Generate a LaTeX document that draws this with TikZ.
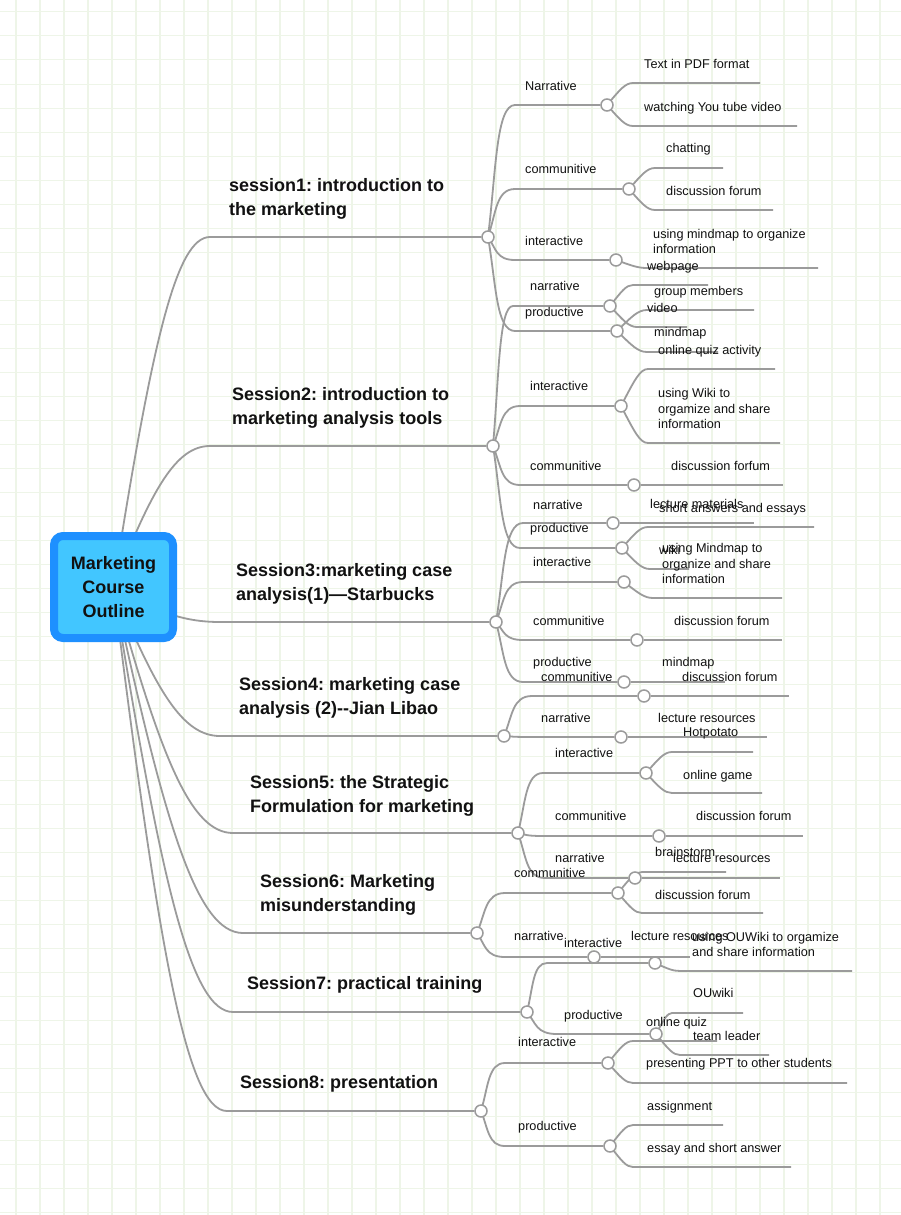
\documentclass[tikz,border=0pt]{standalone}
\usepackage{fontspec}
\setmainfont{Liberation Sans}
\usetikzlibrary{calc}
\definecolor{gridc}{RGB}{238,245,232}
\definecolor{linec}{RGB}{155,155,155}
\definecolor{blueB}{RGB}{30,144,255}
\definecolor{blueL}{RGB}{66,198,255}
\definecolor{txt}{RGB}{17,17,17}
\pgfdeclarelayer{gridlayer}
\pgfdeclarelayer{edges}
\pgfsetlayers{gridlayer,edges,main}
\tikzset{
  conn/.style={draw=linec, line width=1.8pt},
  hub/.style={circle, draw=linec, fill=white, line width=1.5pt, minimum size=12pt, inner sep=0pt},
  lab/.style={anchor=west, inner sep=0pt, text=txt, font=\fontsize{12.7}{15.5}\selectfont, text height=9.2pt, text depth=2.7pt},
  labm/.style={anchor=west, inner sep=0pt, text=txt, font=\fontsize{12.7}{15.5}\selectfont, align=left},
  sess/.style={anchor=west, inner sep=0pt, text=txt, font=\bfseries\fontsize{18}{24}\selectfont, align=left},
  gridv/.style={draw=gridc, line width=1.4pt},
  gridh/.style={draw=gridc, line width=1pt},
}
% main curve (root to session line)
\newcommand\lnk[3]{\draw[conn] let \p1=(#1), \p2=(#2) in (\p1) .. controls ({\x1+0.4*(\x2-\x1)},{\y1+0.7*(\y2-\y1)}) and ({\x2-0.35*(\x2-\x1)},\y2) .. (\p2) -- (#3);}
% hub to sub-hub curve
\newcommand\hlnk[3]{\draw[conn] let \p1=(#1), \p2=(#2) in (\p1) .. controls ({\x1+0.3*(\x2-\x1)},{\y1+0.5*(\y2-\y1)}) and ({\x1+0.3*(\x2-\x1)},\y2) .. (\p2) -- (#3);}
% sub-hub to leaf curve
\newcommand\llnk[3]{\draw[conn] let \p1=(#1), \p2=(#2) in (\p1) .. controls ({\x1+0.5*(\x2-\x1)},{\y1+0.7*(\y2-\y1)}) and ({\x2-0.3*(\x2-\x1)},\y2) .. (\p2) -- (#3);}
\newcommand\br[4]{\coordinate (#4b) at (#2); \coordinate (#4) at (#3); \llnk{#1}{#4b}{#4}}
\frenchspacing
\begin{document}
\begin{tikzpicture}[x=1pt,y=-1pt]
\useasboundingbox (0,0) rectangle (901,1215);
\begin{pgfonlayer}{gridlayer}
\fill[white] (0,0) rectangle (901,1215);
\foreach \x in {16,40,...,904} \draw[gridv] (\x,0) -- (\x,1215);
\foreach \y in {12,36,...,1212} \draw[gridh] (0,\y) -- (901,\y);
\end{pgfonlayer}

% root
\node[draw=blueB, line width=8pt, fill=blueL, rounded corners=9pt, minimum width=119pt, minimum height=102pt, inner sep=0pt, text=txt, font=\bfseries\fontsize{18}{24}\selectfont, align=center] (root) at (113.5,587) {Marketing\\Course\\Outline};

% session hubs
\node[hub] (H1) at (488,237) {};
\node[hub] (H2) at (493,446) {};
\node[hub] (H3) at (496,622) {};
\node[hub] (H4) at (504,736) {};
\node[hub] (H5) at (518,833) {};
\node[hub] (H6) at (477,933) {};
\node[hub] (H7) at (527,1012) {};
\node[hub] (H8) at (481,1111) {};

% sub hubs
\node[hub] (n1) at (607,105) {};
\node[hub] (c1) at (629,189) {};
\node[hub] (i1) at (616,260) {};
\node[hub] (p1) at (617,331) {};
\node[hub] (n2) at (610,306) {};
\node[hub] (i2) at (621,406) {};
\node[hub] (c2) at (634,485) {};
\node[hub] (p2) at (622,548) {};
\node[hub] (n3) at (613,523) {};
\node[hub] (i3) at (624,582) {};
\node[hub] (c3) at (637,640) {};
\node[hub] (p3) at (624,682) {};
\node[hub] (c4) at (644,696) {};
\node[hub] (n4) at (621,737) {};
\node[hub] (i5) at (646,773) {};
\node[hub] (c5) at (659,836) {};
\node[hub] (n5) at (635,878) {};
\node[hub] (c6) at (618,893) {};
\node[hub] (n6) at (594,957) {};
\node[hub] (i7) at (655,963) {};
\node[hub] (p7) at (656,1034) {};
\node[hub] (i8) at (608,1063) {};
\node[hub] (p8) at (610,1146) {};

\begin{pgfonlayer}{edges}
% root to sessions
\coordinate (s1) at (210,237); \lnk{root}{s1}{H1}
\coordinate (s2) at (210,446); \lnk{root}{s2}{H2}
\coordinate (s3) at (220,622); \lnk{root}{s3}{H3}
\coordinate (s4) at (220,736); \lnk{root}{s4}{H4}
\coordinate (s5) at (233,833); \lnk{root}{s5}{H5}
\coordinate (s6) at (243,933); \lnk{root}{s6}{H6}
\coordinate (s7) at (233,1012); \lnk{root}{s7}{H7}
\coordinate (s8) at (227,1111); \lnk{root}{s8}{H8}
% session 1
\coordinate (n1b) at (515,105); \hlnk{H1}{n1b}{n1}
\br{n1}{633,83}{760,83}{e1}
\br{n1}{633,126}{797,126}{e2}
\coordinate (c1b) at (515,189); \hlnk{H1}{c1b}{c1}
\br{c1}{655,168}{723,168}{e3}
\br{c1}{655,210}{773,210}{e4}
\coordinate (i1b) at (515,260); \hlnk{H1}{i1b}{i1}
\br{i1}{647,268}{818,268}{e5}
\coordinate (p1b) at (515,331); \hlnk{H1}{p1b}{p1}
\br{p1}{647,310}{754,310}{e6}
\br{p1}{647,352}{718,352}{e7}
% session 2
\coordinate (n2b) at (513,306); \hlnk{H2}{n2b}{n2}
\br{n2}{633,285}{708,285}{e8}
\br{n2}{637,327}{687,327}{e9}
\coordinate (i2b) at (520,406); \hlnk{H2}{i2b}{i2}
\br{i2}{648,369}{775,369}{e10}
\br{i2}{648,443}{780,443}{e11}
\coordinate (c2b) at (520,485); \hlnk{H2}{c2b}{c2}
\coordinate (e12) at (783,485); \draw[conn] (c2) -- (e12);
\coordinate (p2b) at (520,548); \hlnk{H2}{p2b}{p2}
\br{p2}{648,527}{814,527}{e13}
\br{p2}{650,569}{689,569}{e14}
% session 3
\coordinate (n3b) at (523,523); \hlnk{H3}{n3b}{n3}
\coordinate (e15) at (754,523); \draw[conn] (n3) -- (e15);
\coordinate (i3b) at (523,582); \hlnk{H3}{i3b}{i3}
\br{i3}{653,598}{782,598}{e16}
\coordinate (c3b) at (523,640); \hlnk{H3}{c3b}{c3}
\coordinate (e17) at (782,640); \draw[conn] (c3) -- (e17);
\coordinate (p3b) at (523,682); \hlnk{H3}{p3b}{p3}
\coordinate (e18) at (725,682); \draw[conn] (p3) -- (e18);
% session 4
\coordinate (c4b) at (532,696); \hlnk{H4}{c4b}{c4}
\coordinate (e19) at (789,696); \draw[conn] (c4) -- (e19);
\coordinate (n4b) at (532,737); \hlnk{H4}{n4b}{n4}
\coordinate (e20) at (767,737); \draw[conn] (n4) -- (e20);
% session 5
\coordinate (i5b) at (543,773); \hlnk{H5}{i5b}{i5}
\br{i5}{672,752}{753,752}{e21}
\br{i5}{672,793}{762,793}{e22}
\coordinate (c5b) at (543,836); \hlnk{H5}{c5b}{c5}
\coordinate (e23) at (803,836); \draw[conn] (c5) -- (e23);
\coordinate (n5b) at (545,878); \hlnk{H5}{n5b}{n5}
\coordinate (e24) at (780,878); \draw[conn] (n5) -- (e24);
% session 6
\coordinate (c6b) at (505,893); \hlnk{H6}{c6b}{c6}
\br{c6}{642,872}{726,872}{e25}
\br{c6}{642,913}{763,913}{e26}
\coordinate (n6b) at (505,957); \hlnk{H6}{n6b}{n6}
\coordinate (e27) at (690,957); \draw[conn] (n6) -- (e27);
% session 7
\coordinate (i7b) at (547,963); \hlnk{H7}{i7b}{i7}
\br{i7}{680,971}{852,971}{e28}
\coordinate (p7b) at (557,1034); \hlnk{H7}{p7b}{p7}
\br{p7}{672,1013}{743,1013}{e29}
\br{p7}{680,1055}{769,1055}{e30}
% session 8
\coordinate (i8b) at (505,1063); \hlnk{H8}{i8b}{i8}
\br{i8}{633,1041}{717,1041}{e31}
\br{i8}{633,1083}{847,1083}{e32}
\coordinate (p8b) at (505,1146); \hlnk{H8}{p8b}{p8}
\br{p8}{633,1125}{723,1125}{e33}
\br{p8}{633,1167}{791,1167}{e34}
\end{pgfonlayer}

% session labels
\node[sess] (t1) at (229,199) {session1: introduction to\\the marketing};
\node[sess] (t2) at (232,408) {Session2: introduction to\\marketing analysis tools};
\node[sess] (t3) at (236,584) {Session3:marketing case\\analysis(1)—Starbucks};
\node[sess] (t4) at (239,698) {Session4: marketing case\\analysis (2)-\kern0pt-Jian Libao};
\node[sess] (t5) at (250,796) {Session5: the Strategic\\Formulation for marketing};
\node[sess] (t6) at (260,895) {Session6: Marketing\\misunderstanding};
\node[sess] (t7) at (247,985) {Session7: practical training};
\node[sess] (t8) at (240,1084) {Session8: presentation};

% small labels
\node[lab] (l1) at (525,87) {Narrative};
\node[lab] (l2) at (644,65) {Text in PDF format};
\node[lab] (l3) at (644,108) {watching You tube video};
\node[lab] (l4) at (525,170) {communitive};
\node[lab] (l5) at (666,149) {chatting};
\node[lab] (l6) at (666,192) {discussion forum};
\node[lab] (l7) at (525,242) {interactive};
\node[labm] (l8) at (653,241.5) {using mindmap to organize\\information};
\node[lab] (l9) at (647,267) {webpage};
\node[lab] (l10) at (530,287) {narrative};
\node[lab] (l11) at (525,313) {productive};
\node[lab] (l12) at (654,292) {group members};
\node[lab] (l13) at (647,309) {video};
\node[lab] (l14) at (654,333) {mindmap};
\node[lab] (l15) at (658,351) {online quiz activity};
\node[lab] (l16) at (530,387) {interactive};
\node[labm] (l17) at (658,408.5) {using Wiki to\\orgamize and share\\information};
\node[lab] (l18) at (530,467) {communitive};
\node[lab] (l19) at (671,467) {discussion forfum};
\node[lab] (l20) at (533,506) {narrative};
\node[lab] (l21) at (650,505) {lecture materials};
\node[lab] (l22) at (659,509) {short answers and essays};
\node[lab] (l23) at (530,529) {productive};
\node[lab] (l24) at (659,551) {wiki};
\node[labm] (l25) at (662,563.5) {using Mindmap to\\organize and share\\information};
\node[lab] (l26) at (533,563) {interactive};
\node[lab] (l27) at (533,622) {communitive};
\node[lab] (l28) at (674,622) {discussion forum};
\node[lab] (l29) at (533,663) {productive};
\node[lab] (l30) at (662,663) {mindmap};
\node[lab] (l31) at (541,678) {communitive};
\node[lab] (l32) at (682,678) {discussion forum};
\node[lab] (l33) at (541,719) {narrative};
\node[lab] (l34) at (658,719) {lecture resources};
\node[lab] (l35) at (683,733) {Hotpotato};
\node[lab] (l36) at (555,754) {interactive};
\node[lab] (l37) at (683,776) {online game};
\node[lab] (l38) at (555,817) {communitive};
\node[lab] (l39) at (696,817) {discussion forum};
\node[lab] (l40) at (555,859) {narrative};
\node[lab] (l41) at (655,853) {brainstorm};
\node[lab] (l42) at (673,859) {lecture resources};
\node[lab] (l43) at (514,874) {communitive};
\node[lab] (l44) at (655,896) {discussion forum};
\node[lab] (l45) at (514,937) {narrative};
\node[lab] (l46) at (631,937) {lecture resources};
\node[lab] (l47) at (564,944) {interactive};
\node[labm] (l48) at (692,944.5) {using OUWiki to orgamize\\and share information};
\node[lab] (l49) at (693,994) {OUwiki};
\node[lab] (l50) at (564,1016) {productive};
\node[lab] (l51) at (646,1023) {online quiz};
\node[lab] (l52) at (693,1037) {team leader};
\node[lab] (l53) at (518,1043) {interactive};
\node[lab] (l54) at (646,1064) {presenting PPT to other students};
\node[lab] (l55) at (647,1107) {assignment};
\node[lab] (l56) at (518,1127) {productive};
\node[lab] (l57) at (647,1149) {essay and short answer};
\end{tikzpicture}
\end{document}
